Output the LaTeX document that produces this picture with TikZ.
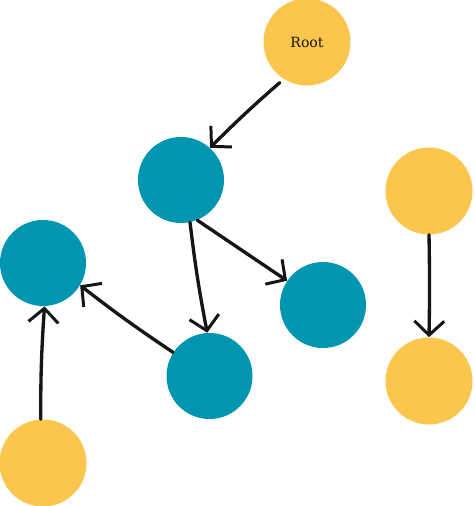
\documentclass[tikz,border=0pt]{standalone}
\usepackage{fontspec}
\setmainfont{DejaVu Serif}
\usetikzlibrary{arrows.meta}
\definecolor{teal1}{HTML}{0096B1}
\definecolor{gold1}{HTML}{FBC54E}
\definecolor{ink}{HTML}{151515}
\tikzset{
  tnode/.style={circle,fill=teal1,minimum size=86*0.02cm,inner sep=0pt},
  ynode/.style={circle,fill=gold1,minimum size=87*0.02cm,inner sep=0pt},
  conn/.style={draw=ink,line width=1.9pt,line cap=round,
    -{Straight Barb[length=8pt,width=17pt,line width=1.7pt]}},
}
\begin{document}
\begin{tikzpicture}[x=0.02cm,y=-0.02cm]
\useasboundingbox[fill=white] (0,0) rectangle (474,506);
\node[ynode,font=\fontsize{8}{10}\selectfont,text=ink] (root) at (307,42) {Root};
\node[tnode] (a) at (181,180) {};
\node[tnode] (b) at (43,263) {};
\node[tnode] (c) at (323,305) {};
\node[tnode] (d) at (209.5,376) {};
\node[ynode] (e) at (43,463) {};
\node[ynode] (f) at (429,191) {};
\node[ynode] (g) at (429,381) {};
\draw[conn,shorten <=3pt] (root.-122) to[bend right=2] (a.48);
\draw[conn] (a.-78) to[bend right=2] (d.93);
\draw[conn] (a.-68) -- (c.146);
\draw[conn] (d.147) to[bend left=2] (b.-31);
\draw[conn] (e.93) to[bend left=2] (b.-88);
\draw[conn] (f.-90) to[bend left=1] (g.90);
\end{tikzpicture}
\end{document}
